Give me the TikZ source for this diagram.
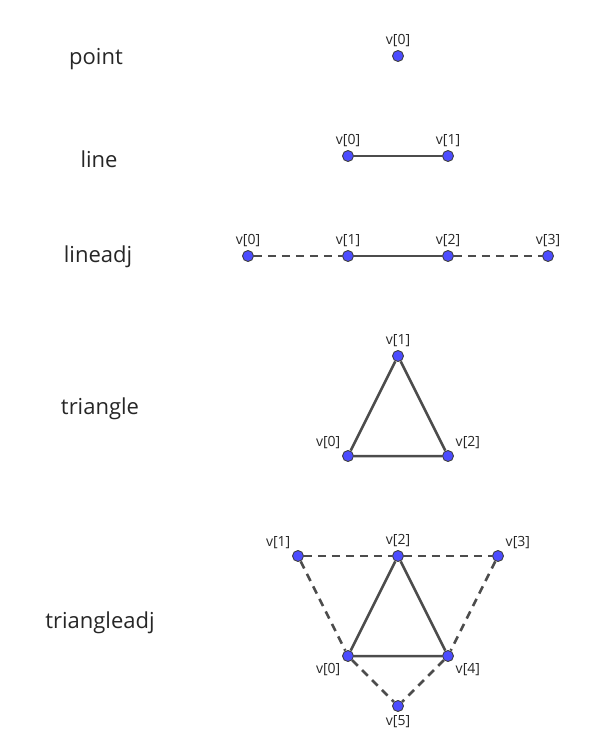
\documentclass[tikz,border=0pt]{standalone}
\usepackage{fontspec}
\setmainfont{Open Sans}
\begin{document}
\begin{tikzpicture}[x=1pt,y=-1pt]
    % Define styles
    \tikzstyle{vert} = [circle, inner sep=0pt, minimum size=11pt, draw=black!75, line width=0.9pt,
                        fill=blue!70!white, label distance=-1pt]
    \tikzstyle{every label} = [font=\fontsize{14}{16}\selectfont, text=black!85]
    \tikzstyle{kind} = [font=\fontsize{22}{26}\selectfont, text=black!85]
    \tikzstyle{edge} = [line width=2.5pt, draw=black!70]
    \tikzstyle{adj} = [edge, dash pattern=on 8pt off 6pt]

    \useasboundingbox (0,0) rectangle (605,749);

    % Row labels
    \node[kind] (npoint) at (96,59) {point};
    \node[kind] (nline) at (99,159) {line};
    \node[kind] (nlineadj) at (98,257) {lineadj};
    \node[kind] (ntri) at (100,409) {triangle};
    \node[kind] (ntriadj) at (100,623) {triangleadj};

    % point
    \node[vert, label=above:{v[0]}] (p0) at (398,56) {};

    % line
    \node[vert, label=above:{v[0]}] (l0) at (348,156) {};
    \node[vert, label=above:{v[1]}] (l1) at (448,156) {};
    \draw[edge] (l0) -- (l1);

    % lineadj
    \node[vert, label=above:{v[0]}] (la0) at (248,256) {};
    \node[vert, label=above:{v[1]}] (la1) at (348,256) {};
    \node[vert, label=above:{v[2]}] (la2) at (448,256) {};
    \node[vert, label=above:{v[3]}] (la3) at (548,256) {};
    \draw[adj] (la0) -- (la1);
    \draw[edge] (la1) -- (la2);
    \draw[adj] (la2) -- (la3);

    % triangle
    \node[vert, label=above:{v[1]}] (t1) at (398,356) {};
    \node[vert, label=above left:{v[0]}] (t0) at (348,456) {};
    \node[vert, label=above right:{v[2]}] (t2) at (448,456) {};
    \draw[edge] (t0) -- (t1) -- (t2) -- (t0);

    % triangleadj
    \node[vert, label=above left:{v[1]}] (ta1) at (298,556) {};
    \node[vert, label=above:{v[2]}] (ta2) at (398,556) {};
    \node[vert, label=above right:{v[3]}] (ta3) at (498,556) {};
    \node[vert, label=below left:{v[0]}] (ta0) at (348,656) {};
    \node[vert, label=below right:{v[4]}] (ta4) at (448,656) {};
    \node[vert, label=below:{v[5]}] (ta5) at (398,706) {};
    \draw[edge] (ta0) -- (ta2) -- (ta4) -- (ta0);
    \draw[adj] (ta1) -- (ta2);
    \draw[adj] (ta2) -- (ta3);
    \draw[adj] (ta1) -- (ta0);
    \draw[adj] (ta0) -- (ta5);
    \draw[adj] (ta3) -- (ta4);
    \draw[adj] (ta4) -- (ta5);
\end{tikzpicture}
\end{document}
